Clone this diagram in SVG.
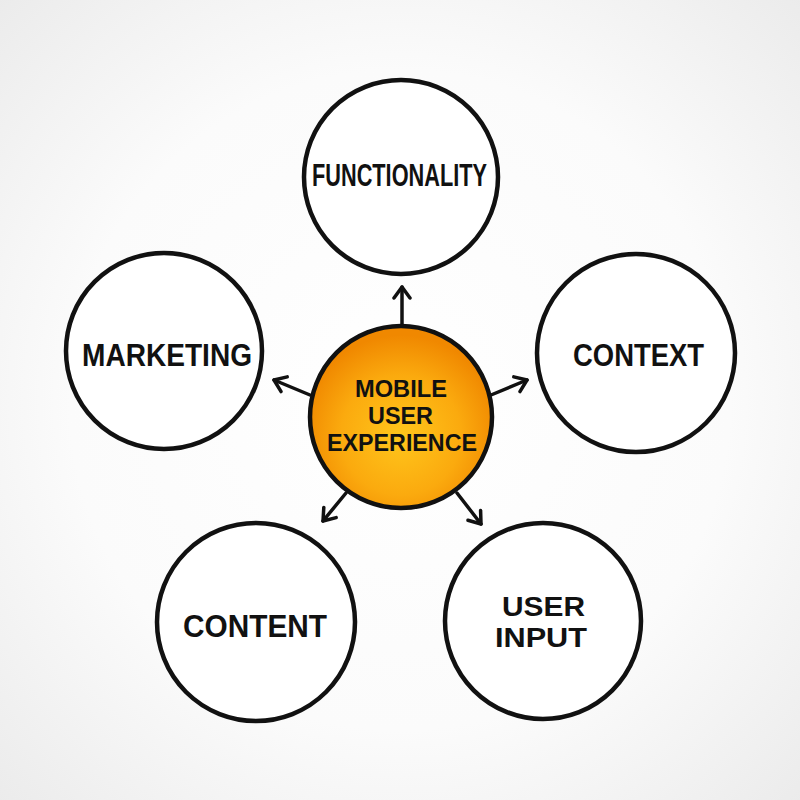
<svg xmlns="http://www.w3.org/2000/svg" width="800" height="800" viewBox="0 0 800 800">
  <defs>
    <radialGradient id="bg" cx="50%" cy="50%" r="75%">
      <stop offset="0" stop-color="#ffffff"/>
      <stop offset="0.55" stop-color="#fbfbfb"/>
      <stop offset="1" stop-color="#e9e9e9"/>
    </radialGradient>
    <radialGradient id="hub" cx="50%" cy="60%" r="55%">
      <stop offset="0" stop-color="#ffc61c"/>
      <stop offset="0.6" stop-color="#fbaa0e"/>
      <stop offset="1" stop-color="#f08800"/>
    </radialGradient>
    <marker id="head" viewBox="0 0 20 20" refX="16" refY="10" markerWidth="20" markerHeight="20" markerUnits="userSpaceOnUse" orient="auto">
      <polyline points="5,2 16,10 5,18" fill="none" stroke="#111" stroke-width="3.5" stroke-linecap="round" stroke-linejoin="round"/>
    </marker>
    <style>
      .ring { fill: #ffffff; stroke: #111; stroke-width: 4.5; }
      .hubring { fill: url(#hub); stroke: #111; stroke-width: 4.5; }
      .lbl { font-family: "Liberation Sans", "DejaVu Sans", sans-serif; font-weight: bold; font-size: 32px; fill: #111; }
      .lbl2 { font-family: "Liberation Sans", "DejaVu Sans", sans-serif; font-weight: bold; font-size: 27px; fill: #111; }
      .hublbl { font-family: "Liberation Sans", "DejaVu Sans", sans-serif; font-weight: bold; font-size: 24px; fill: #111; }
      .arrow { fill: none; stroke: #111; stroke-width: 3.5; stroke-linecap: round; marker-end: url(#head); }
    </style>
  </defs>

  <rect x="0" y="0" width="800" height="800" fill="url(#bg)"/>

  <g id="connectors">
    <line class="arrow" x1="402" y1="327" x2="402" y2="287"/>
    <line class="arrow" x1="491" y1="395" x2="527" y2="380"/>
    <line class="arrow" x1="310" y1="395" x2="274" y2="380"/>
    <line class="arrow" x1="346" y1="493" x2="323" y2="521"/>
    <line class="arrow" x1="457" y1="493" x2="481" y2="524"/>
  </g>

  <g id="hub-node">
    <circle class="hubring" cx="401" cy="417" r="91"/>
    <text class="hublbl" x="355" y="397" textLength="92" lengthAdjust="spacingAndGlyphs">MOBILE</text>
    <text class="hublbl" x="368" y="424" textLength="65" lengthAdjust="spacingAndGlyphs">USER</text>
    <text class="hublbl" x="327" y="451" textLength="150" lengthAdjust="spacingAndGlyphs">EXPERIENCE</text>
  </g>

  <g id="functionality">
    <circle class="ring" cx="401" cy="177" r="97"/>
    <text class="lbl" x="312" y="186" textLength="175" lengthAdjust="spacingAndGlyphs">FUNCTIONALITY</text>
  </g>

  <g id="marketing">
    <circle class="ring" cx="164" cy="351" r="98"/>
    <text class="lbl" x="82" y="366" textLength="170" lengthAdjust="spacingAndGlyphs">MARKETING</text>
  </g>

  <g id="context">
    <circle class="ring" cx="636" cy="353" r="99"/>
    <text class="lbl" x="573" y="366" textLength="131" lengthAdjust="spacingAndGlyphs">CONTEXT</text>
  </g>

  <g id="content">
    <circle class="ring" cx="256" cy="622" r="99"/>
    <text class="lbl" x="183" y="637" textLength="144" lengthAdjust="spacingAndGlyphs">CONTENT</text>
  </g>

  <g id="user-input">
    <circle class="ring" cx="543" cy="621" r="98"/>
    <text class="lbl2" x="502" y="616" textLength="83" lengthAdjust="spacingAndGlyphs">USER</text>
    <text class="lbl2" x="495" y="647" textLength="92" lengthAdjust="spacingAndGlyphs">INPUT</text>
  </g>
</svg>
